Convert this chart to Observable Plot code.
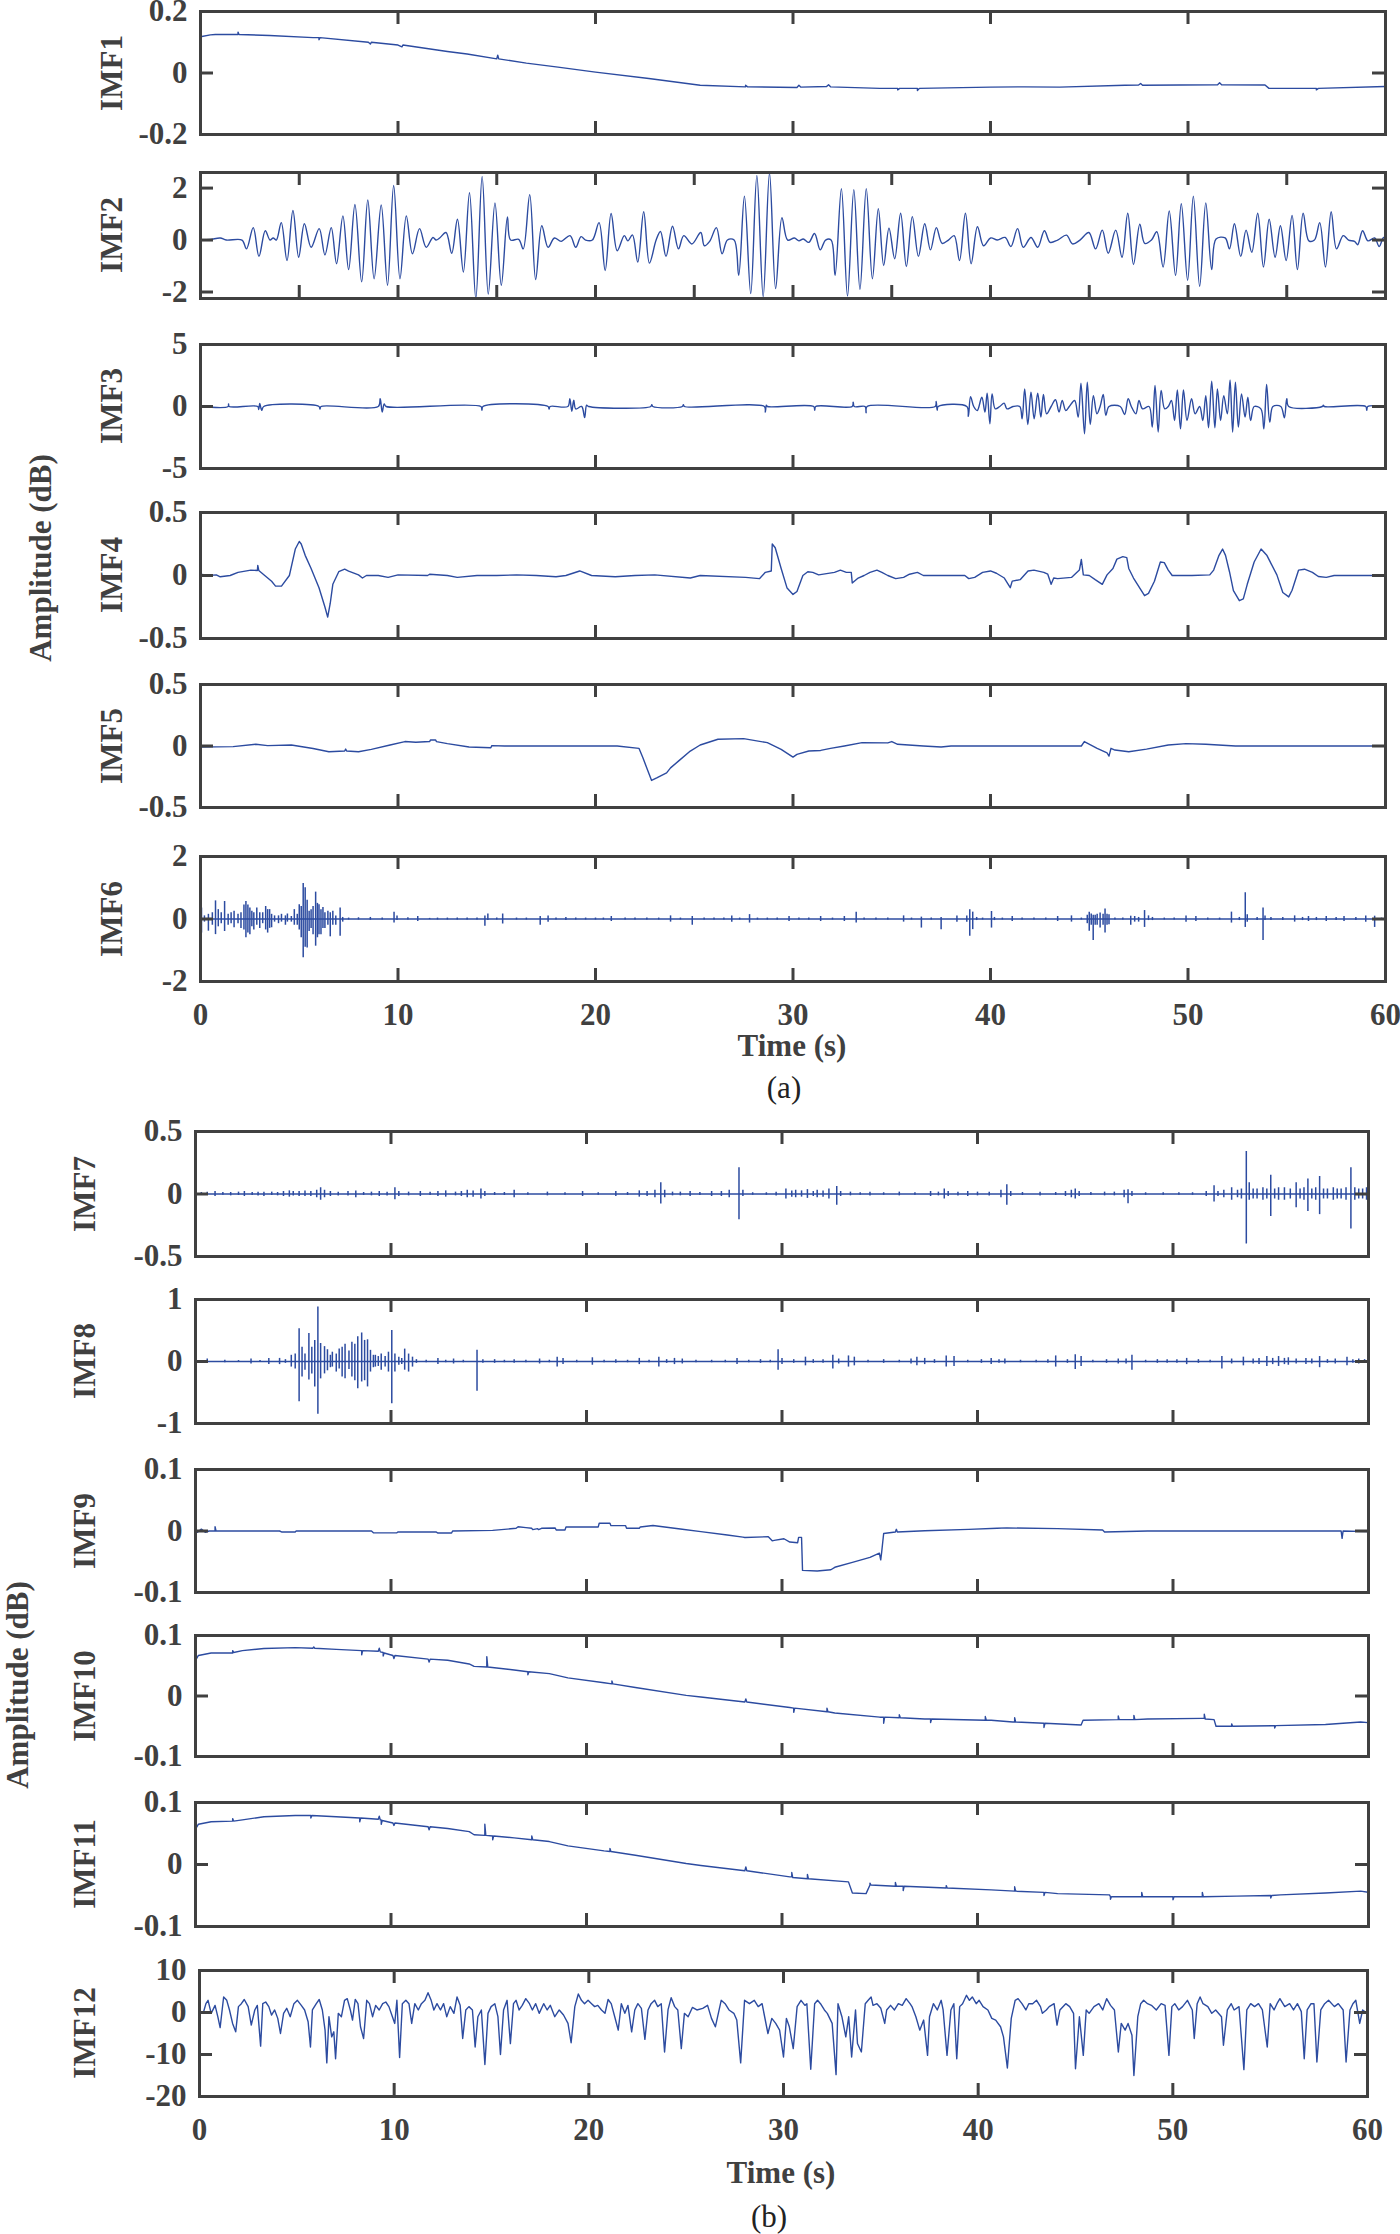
<!DOCTYPE html>
<html>
<head>
<meta charset="utf-8">
<script src="https://cdn.jsdelivr.net/npm/d3@7"></script>
<script src="https://cdn.jsdelivr.net/npm/@observablehq/plot@0.6"></script>
<style>
  body { margin: 0; background: #fff; }
  #fig { position: relative; width: 1400px; height: 2234px; overflow: hidden;
         font-family: "Liberation Serif", "Times New Roman", serif; color: #404040; }
  .lbl { position: absolute; font-weight: bold; font-size: 31px; white-space: nowrap;
         transform: translate(-50%, -50%); line-height: 1; }
  .rot { transform: translate(-50%, -50%) rotate(-90deg); }
  .cap { position: absolute; font-size: 31px; white-space: nowrap; color: #222;
         transform: translate(-50%, -50%); line-height: 1; }
  .panel { position: absolute; }
</style>
</head>
<body>
<div id="fig"></div>
<script>
// ---- Intrinsic mode functions as polylines, [time (s), amplitude] ----
const imf1 = [[0,0.118],[0.5,0.124],[0.75,0.125],[1.9,0.125],[1.9,0.133],[1.95,0.125],[3.5,0.122],[5.7,0.115],[6.0,0.115],[6.0,0.108],[6.05,0.115],[8.5,0.1],[8.6,0.094],[8.65,0.1],[10,0.091],[10.2,0.085],[10.25,0.091],[12.5,0.07],[13.5,0.062],[15,0.046],[15.05,0.058],[15.1,0.046],[16.5,0.032],[18.1,0.019],[20,0.003],[22.7,-0.018],[25.3,-0.04],[27.6,-0.045],[27.6,-0.04],[27.7,-0.045],[30.2,-0.047],[30.3,-0.04],[30.4,-0.046],[31.7,-0.044],[31.8,-0.038],[31.9,-0.045],[34.4,-0.05],[35.3,-0.05],[35.3,-0.055],[35.4,-0.05],[36.3,-0.05],[36.3,-0.057],[36.4,-0.05],[40,-0.046],[41.7,-0.045],[43.5,-0.046],[46.8,-0.04],[47.5,-0.039],[47.6,-0.034],[47.7,-0.04],[51.5,-0.038],[51.6,-0.032],[51.7,-0.038],[53.9,-0.039],[54.1,-0.05],[56.5,-0.05],[56.5,-0.055],[56.6,-0.05],[60,-0.044]];

const imf2 = [[0,0],[0.5,0.02],[1.0,0.08],[1.3,0],[2.1,0],[2.33,-0.34],[2.67,0.48],[2.96,-0.63],[3.28,0.36],[3.52,0],[3.68,0.08],[3.84,0],[4.09,0.67],[4.38,-0.79],[4.68,1.14],[4.97,-0.66],[5.26,0.63],[5.6,-0.28],[6.01,0.44],[6.3,-0.57],[6.62,0.48],[6.89,-0.91],[7.21,0.93],[7.5,-1.14],[7.82,1.37],[8.16,-1.61],[8.47,1.54],[8.79,-1.49],[9.15,1.35],[9.47,-1.74],[9.78,2.1],[10.1,-1.49],[10.42,0.93],[10.73,-0.53],[11.09,0.44],[11.43,-0.28],[11.77,0.1],[11.93,0],[12.11,0.08],[12.43,0.29],[12.72,-0.51],[13.01,0.8],[13.31,-1.23],[13.62,1.82],[13.94,-2.25],[14.26,2.45],[14.57,-2.08],[14.91,1.43],[15.23,-1.74],[15.54,0.89],[15.7,0],[16.11,0.03],[16.34,-0.34],[16.67,1.75],[16.97,-1.52],[17.28,0.55],[17.6,-0.28],[17.92,0.08],[18.26,-0.05],[18.71,0.17],[19.0,-0.28],[19.27,0.13],[19.5,0],[19.84,0],[20.18,0.67],[20.49,-1.17],[20.79,1.02],[21.1,-0.41],[21.46,0.17],[21.64,-0.03],[21.87,0.2],[22.14,-0.85],[22.44,1.09],[22.73,-0.89],[23.07,0],[23.29,0.33],[23.57,-0.63],[23.9,0.53],[24.2,-0.34],[24.47,0.17],[24.88,-0.15],[25.33,0.29],[25.51,-0.22],[25.78,-0.05],[26.12,0.48],[26.41,-0.53],[26.68,0],[27.02,0],[27.25,-1.36],[27.54,1.69],[27.86,-2.06],[28.17,2.49],[28.49,-2.18],[28.81,2.58],[29.12,-1.87],[29.44,0.86],[29.73,0],[30.07,0.08],[30.3,-0.03],[30.52,0.04],[30.8,-0.09],[31.09,0.25],[31.38,-0.38],[31.65,0],[31.93,0],[32.13,-1.36],[32.45,1.98],[32.76,-2.16],[33.08,1.94],[33.39,-1.9],[33.71,1.98],[34.02,-1.49],[34.32,1.21],[34.59,-0.98],[34.86,0.46],[35.15,-0.72],[35.45,1.03],[35.74,-1.02],[36.04,0.9],[36.35,-0.63],[36.67,0.63],[36.96,-0.38],[37.26,0.48],[37.55,-0.13],[37.87,0],[38.16,0.17],[38.43,-0.79],[38.73,1.03],[39.02,-0.91],[39.34,0.51],[39.65,-0.22],[40.01,0.08],[40.35,0],[40.74,0.1],[41.03,-0.25],[41.37,0.44],[41.66,-0.28],[42.05,0.1],[42.39,-0.28],[42.73,0.36],[43.02,-0.09],[43.4,0],[43.85,0.19],[44.15,-0.15],[44.53,0],[44.98,0.29],[45.32,-0.34],[45.66,0.38],[45.96,-0.51],[46.34,0.38],[46.66,-0.66],[46.95,1.03],[47.24,-0.94],[47.56,0.61],[47.81,-0.13],[48.15,0],[48.42,0.32],[48.74,-1.04],[49.05,1.12],[49.37,-1.36],[49.66,1.4],[49.98,-1.55],[50.27,1.69],[50.59,-1.78],[50.9,1.43],[51.2,-1.14],[51.42,0.04],[51.88,0.08],[52.1,-0.34],[52.35,0.63],[52.67,-0.63],[52.94,0.38],[53.23,-0.47],[53.53,1.03],[53.82,-1.04],[54.11,0.8],[54.41,-0.66],[54.68,0.55],[54.97,-0.79],[55.27,0.95],[55.54,-1.14],[55.83,1.03],[56.12,-0.03],[56.4,0],[56.67,0.67],[56.96,-1.04],[57.25,1.09],[57.52,-0.34],[57.86,0.17],[58.13,0],[58.43,-0.05],[58.59,-0.18],[58.84,0.36],[59.11,-0.03],[59.45,0.08],[59.68,-0.25],[59.9,0.1],[60,0.04]];

const imf3 = [[0,0],[1.4,0],[1.42,0.2],[1.45,0],[2.9,0],[2.95,-0.25],[3.0,0.25],[3.1,-0.3],[3.2,0],[6.0,0],[6.05,-0.2],[6.1,0],[9.0,0],[9.1,0.62],[9.2,-0.45],[9.3,0.2],[9.4,0],[14.2,0],[14.25,-0.3],[14.3,0],[17.6,0],[17.65,-0.2],[17.7,0],[18.6,0],[18.7,0.62],[18.8,-0.38],[18.9,0.5],[19.0,-0.2],[19.3,0],[19.45,-0.9],[19.55,0.1],[19.65,0],[22.8,0],[22.85,0.15],[22.9,0],[24.4,0],[24.45,0.15],[24.5,0],[28.55,0],[28.6,-0.45],[28.65,0.1],[28.7,0],[31.05,0],[31.1,-0.3],[31.15,0],[33.0,0],[33.05,0.35],[33.1,0],[33.65,0],[33.7,-0.5],[33.75,0],[37.2,0],[37.25,0.4],[37.3,-0.3],[37.35,0],[38.8,0],[38.88,-0.8],[38.99,0.8],[39.15,0],[39.33,-0.32],[39.56,0.75],[39.72,-0.45],[39.83,1.07],[39.97,-1.4],[40.08,1.02],[40.24,-0.19],[40.47,0],[40.69,0.27],[40.83,-0.19],[41.14,0],[41.48,0],[41.6,-1.0],[41.73,1.42],[41.89,-1.45],[42.05,1.15],[42.21,-0.99],[42.39,1.07],[42.55,-0.86],[42.68,0.97],[42.84,-0.59],[43.07,0],[43.29,0.54],[43.47,-0.45],[43.63,0.48],[43.81,-0.32],[43.99,0],[44.26,0.48],[44.44,-0.86],[44.58,1.88],[44.76,-2.2],[44.9,1.96],[45.05,-1.45],[45.21,0.88],[45.39,-0.59],[45.55,0],[45.71,0.97],[45.84,-0.72],[46.0,0],[46.57,0],[46.79,-0.64],[46.97,0.62],[47.13,0],[47.36,-0.59],[47.52,0.48],[47.7,-0.19],[48.03,0],[48.19,-1.66],[48.33,1.69],[48.49,-2.06],[48.64,1.29],[48.82,-0.19],[49.0,0],[49.16,0.48],[49.32,-1.13],[49.46,1.34],[49.62,-1.8],[49.77,1.34],[49.95,-1.13],[50.18,0.62],[50.36,-0.59],[50.59,0],[50.75,-1.13],[50.9,0.88],[51.04,-1.72],[51.2,2.04],[51.36,-1.72],[51.49,1.42],[51.65,-1.13],[51.81,0.88],[51.99,-0.59],[52.13,2.14],[52.26,-2.06],[52.4,1.96],[52.55,-1.66],[52.71,1.02],[52.89,-0.86],[53.03,0.75],[53.17,-1.13],[53.35,0],[53.69,-0.19],[53.84,-1.8],[53.98,1.77],[54.14,-1.26],[54.3,0],[54.7,0],[54.88,-0.91],[55.0,0.62],[55.1,0],[56.8,0],[56.85,0.1],[56.9,0],[59.0,0],[59.05,-0.3],[59.1,0],[60,0]];

const imf4 = [[0,0.01],[0.4,0],[0.8,0.005],[1.0,-0.01],[1.5,0],[1.9,0.025],[2.55,0.043],[2.88,0.04],[2.9,0.08],[2.95,0.04],[3.6,-0.046],[3.8,-0.084],[4.1,-0.084],[4.5,0],[4.8,0.21],[5.0,0.27],[5.1,0.25],[5.3,0.16],[5.6,0.056],[6.0,-0.097],[6.3,-0.25],[6.44,-0.33],[6.57,-0.22],[6.7,-0.07],[7.0,0.03],[7.3,0.05],[7.5,0.035],[8.0,0.005],[8.2,-0.02],[8.4,0],[9.0,0],[9.5,-0.015],[10.0,0.005],[11.5,0],[11.6,0.01],[12.5,0],[13.0,-0.015],[14.0,0],[15.0,0],[16.0,0.005],[17.0,0],[18.0,-0.01],[18.5,0],[19.2,0.036],[19.8,0],[21.0,-0.01],[22.0,0],[23.0,0.005],[24.8,-0.02],[25.3,0],[27.6,-0.015],[28.3,-0.025],[28.6,0.025],[28.9,0.036],[28.95,0.25],[29.1,0.22],[29.4,0.056],[29.7,-0.1],[30.0,-0.15],[30.2,-0.127],[30.5,0],[30.75,0.03],[31.0,0.025],[31.3,0.005],[32.1,0.025],[32.4,0.043],[32.7,0.025],[32.95,0.025],[33.0,-0.06],[33.3,-0.02],[33.6,0],[33.9,0.025],[34.25,0.043],[34.5,0.025],[34.8,0],[35.2,-0.025],[35.6,-0.015],[35.9,0.01],[36.3,0.025],[36.6,0],[38.7,0],[38.9,-0.025],[39.2,-0.015],[39.6,0.025],[40.0,0.036],[40.3,0.018],[40.7,-0.02],[41.0,-0.097],[41.1,-0.045],[41.5,-0.033],[41.9,0.036],[42.2,0.043],[42.7,0.025],[42.9,0.01],[43.07,-0.07],[43.2,-0.02],[43.4,-0.025],[44.1,-0.015],[44.5,0.043],[44.6,0.127],[44.7,0.005],[45.0,0],[45.3,-0.033],[45.66,-0.07],[45.9,0.005],[46.2,0.056],[46.4,0.13],[46.7,0.15],[46.9,0.142],[47.0,0.056],[47.24,-0.02],[47.6,-0.11],[47.8,-0.16],[48.0,-0.142],[48.3,-0.046],[48.6,0.107],[48.8,0.102],[49.0,0.043],[49.2,0],[50.2,0],[51.1,0.005],[51.3,0.043],[51.57,0.16],[51.75,0.21],[51.9,0.16],[52.1,0.03],[52.3,-0.12],[52.6,-0.2],[52.8,-0.186],[53.0,-0.07],[53.35,0.107],[53.7,0.21],[54.0,0.158],[54.5,0.005],[54.8,-0.135],[55.1,-0.17],[55.27,-0.117],[55.6,0.043],[55.9,0.05],[56.3,0.025],[56.6,-0.008],[57.0,-0.015],[57.4,0],[60,0]];

const imf5 = [[0,-0.008],[1.65,-0.005],[2.8,0.014],[3.4,0.003],[4.6,0.008],[5.7,-0.02],[6.5,-0.047],[7.3,-0.041],[7.35,-0.025],[7.4,-0.041],[8.0,-0.047],[8.65,-0.027],[9.6,0.008],[10.35,0.036],[10.9,0.03],[11.6,0.036],[11.65,0.049],[11.9,0.049],[11.95,0.036],[12.5,0.019],[13.6,-0.008],[14.7,-0.014],[14.75,0.003],[15.4,0],[21.1,0],[22.2,-0.019],[22.4,-0.096],[22.66,-0.205],[22.84,-0.28],[23.1,-0.26],[23.6,-0.219],[23.8,-0.178],[24.2,-0.123],[24.8,-0.041],[25.3,0.008],[26.2,0.055],[27.5,0.06],[28.7,0.027],[29.4,-0.027],[30.0,-0.09],[30.2,-0.068],[30.8,-0.041],[31.4,-0.036],[31.9,-0.019],[32.6,0],[33.5,0.027],[34.8,0.025],[35.0,0.036],[35.3,0.014],[36.6,0],[37.5,-0.008],[38.0,0],[43.4,0],[44.6,0],[44.75,0.036],[45.4,-0.019],[45.9,-0.055],[46.0,-0.082],[46.1,-0.019],[46.3,-0.033],[47.0,-0.047],[47.9,-0.025],[49.0,0.008],[49.9,0.019],[50.9,0.014],[52.4,0],[60,0]];

// ---- Bursty modes as oscillation extents about a zero baseline, [time (s), min, max] ----
const imf6 = [[0.05,-0.45,0.35],[0.2,-0.1,0.1],[0.4,-0.39,0.15],[0.6,-0.2,0.2],[0.76,-0.5,0.58],[0.9,-0.25,0.3],[1.05,-0.15,0.2],[1.22,-0.4,0.56],[1.4,-0.2,0.15],[1.55,-0.15,0.2],[1.7,-0.28,0.25],[1.9,-0.15,0.15],[2.05,-0.3,0.2],[2.2,-0.35,0.45],[2.3,-0.6,0.56],[2.4,-0.45,0.45],[2.5,-0.5,0.35],[2.6,-0.25,0.25],[2.7,-0.35,0.2],[2.85,-0.2,0.35],[3.0,-0.3,0.2],[3.15,-0.15,0.2],[3.3,-0.35,0.4],[3.4,-0.45,0.3],[3.5,-0.3,0.3],[3.6,-0.28,0.15],[3.75,-0.1,0.1],[3.95,-0.15,0.1],[4.1,-0.1,0.15],[4.3,-0.2,0.1],[4.4,-0.1,0.16],[4.6,-0.1,0.08],[4.75,-0.2,0.3],[4.9,-0.2,0.15],[5.0,-0.35,0.46],[5.1,-0.6,0.4],[5.2,-1.24,1.14],[5.3,-0.9,1.0],[5.4,-0.93,0.6],[5.5,-0.4,0.25],[5.6,-0.3,0.3],[5.7,-0.5,0.4],[5.83,-0.87,0.86],[5.92,-0.6,0.5],[6.0,-0.5,0.46],[6.1,-0.5,0.3],[6.2,-0.3,0.37],[6.3,-0.3,0.2],[6.45,-0.2,0.25],[6.57,-0.57,0.2],[6.7,-0.2,0.25],[6.85,-0.2,0.1],[7.07,-0.55,0.35],[7.2,-0.1,0.05],[7.5,-0.03,0.03],[8.0,-0.03,0.04],[8.6,-0.04,0.05],[9.2,-0.03,0.03],[9.8,-0.13,0.22],[9.95,-0.05,0.1],[10.5,-0.03,0.04],[11.0,-0.08,0.08],[11.6,-0.02,0.02],[12.0,-0.03,0.03],[12.5,-0.03,0.03],[13.0,-0.03,0.03],[13.5,-0.03,0.03],[14.0,-0.03,0.03],[14.4,-0.23,0.1],[14.55,-0.05,0.16],[15.0,-0.03,0.03],[15.3,-0.16,0.16],[16.0,-0.03,0.03],[16.5,-0.03,0.03],[17.2,-0.2,0.08],[17.6,-0.1,0.1],[18.0,-0.03,0.03],[18.5,-0.05,0.05],[19.0,-0.03,0.03],[19.5,-0.03,0.03],[20.0,-0.03,0.03],[20.4,-0.03,0.03],[20.8,-0.08,0.08],[21.5,-0.03,0.03],[22.0,-0.03,0.03],[22.6,-0.03,0.03],[23.2,-0.03,0.03],[23.8,-0.1,0.1],[24.3,-0.03,0.03],[24.9,-0.2,0.08],[25.5,-0.03,0.03],[26.0,-0.03,0.03],[26.5,-0.03,0.03],[26.9,-0.1,0.1],[27.3,-0.03,0.03],[27.8,-0.13,0.14],[28.2,-0.03,0.03],[28.7,-0.03,0.03],[29.2,-0.03,0.03],[29.8,-0.08,0.08],[30.3,-0.03,0.03],[30.8,-0.03,0.03],[31.4,-0.08,0.08],[32.0,-0.03,0.03],[32.6,-0.08,0.08],[33.2,-0.13,0.22],[33.6,-0.03,0.03],[34.2,-0.03,0.03],[34.8,-0.03,0.03],[35.6,-0.1,0.1],[36.0,-0.03,0.03],[36.5,-0.29,0.06],[37.0,-0.03,0.03],[37.5,-0.34,0.05],[38.3,-0.1,0.1],[38.8,-0.1,0.1],[38.95,-0.55,0.3],[39.1,-0.34,0.22],[39.3,-0.05,0.05],[39.6,-0.03,0.03],[40.05,-0.29,0.24],[40.2,-0.05,0.05],[40.6,-0.03,0.03],[41.1,-0.08,0.08],[41.6,-0.03,0.03],[42.2,-0.03,0.03],[42.8,-0.03,0.03],[43.4,-0.08,0.08],[44.1,-0.1,0.1],[44.6,-0.03,0.03],[44.9,-0.15,0.12],[45.0,-0.39,0.22],[45.1,-0.2,0.16],[45.2,-0.69,0.12],[45.3,-0.2,0.12],[45.4,-0.2,0.15],[45.55,-0.29,0.19],[45.7,-0.2,0.15],[45.8,-0.45,0.32],[45.9,-0.2,0.15],[46.0,-0.18,0.14],[46.3,-0.03,0.03],[46.7,-0.03,0.03],[47.1,-0.2,0.09],[47.3,-0.1,0.08],[47.5,-0.1,0.05],[47.8,-0.27,0.27],[48.0,-0.05,0.1],[48.2,-0.05,0.05],[48.8,-0.03,0.03],[49.3,-0.03,0.03],[49.9,-0.1,0.1],[50.4,-0.08,0.08],[51.0,-0.03,0.03],[51.6,-0.03,0.03],[52.2,-0.13,0.22],[52.6,-0.05,0.05],[52.9,-0.27,0.84],[53.0,-0.1,0.14],[53.5,-0.05,0.05],[53.8,-0.69,0.35],[53.9,-0.05,0.1],[54.2,-0.05,0.05],[54.8,-0.05,0.05],[55.4,-0.1,0.1],[55.8,-0.05,0.05],[56.1,-0.08,0.08],[56.5,-0.05,0.05],[57.0,-0.08,0.08],[57.5,-0.05,0.05],[57.9,-0.08,0.08],[58.5,-0.05,0.05],[59.0,-0.1,0.1],[59.45,-0.27,0.09],[59.8,-0.03,0.03]];

const imf7 = [[0.3,-0.012,0.012],[0.6,-0.01,0.015],[1,-0.02,0.02],[1.4,-0.01,0.012],[1.8,-0.015,0.012],[2.2,-0.012,0.015],[2.5,-0.02,0.02],[2.9,-0.012,0.012],[3.2,-0.015,0.015],[3.5,-0.02,0.015],[3.9,-0.012,0.015],[4.2,-0.015,0.012],[4.5,-0.02,0.02],[4.8,-0.025,0.025],[5.0,-0.015,0.02],[5.3,-0.02,0.02],[5.6,-0.02,0.025],[5.9,-0.02,0.02],[6.2,-0.03,0.03],[6.4,-0.05,0.05],[6.6,-0.03,0.03],[6.9,-0.02,0.02],[7.3,-0.015,0.015],[7.8,-0.015,0.02],[8.2,-0.03,0.025],[8.6,-0.012,0.012],[9.0,-0.015,0.015],[9.4,-0.02,0.02],[9.8,-0.015,0.015],[10.2,-0.045,0.05],[10.4,-0.02,0.02],[10.9,-0.015,0.015],[11.5,-0.02,0.02],[12.0,-0.012,0.015],[12.4,-0.02,0.02],[12.8,-0.025,0.025],[13.3,-0.015,0.015],[13.6,-0.02,0.02],[13.9,-0.03,0.03],[14.2,-0.025,0.025],[14.6,-0.04,0.04],[14.8,-0.02,0.02],[15.3,-0.012,0.012],[15.8,-0.012,0.012],[16.3,-0.03,0.03],[17.0,-0.01,0.01],[18,-0.015,0.015],[18.9,-0.01,0.01],[19.8,-0.02,0.02],[20.6,-0.01,0.01],[21.5,-0.02,0.02],[22.1,-0.012,0.012],[22.7,-0.025,0.025],[23.1,-0.02,0.02],[23.5,-0.03,0.03],[23.8,-0.08,0.09],[24.0,-0.03,0.03],[24.4,-0.015,0.015],[24.8,-0.015,0.015],[25.3,-0.02,0.02],[25.8,-0.012,0.012],[26.4,-0.02,0.02],[26.9,-0.02,0.02],[27.3,-0.03,0.03],[27.8,-0.205,0.21],[28.0,-0.02,0.03],[28.5,-0.01,0.01],[29.2,-0.01,0.01],[29.7,-0.015,0.015],[30.2,-0.04,0.04],[30.5,-0.025,0.025],[30.7,-0.03,0.03],[31.0,-0.025,0.025],[31.3,-0.035,0.035],[31.6,-0.02,0.02],[31.8,-0.03,0.03],[32.1,-0.025,0.025],[32.4,-0.04,0.04],[32.8,-0.09,0.06],[33.0,-0.02,0.02],[33.5,-0.015,0.015],[34.0,-0.01,0.01],[34.5,-0.015,0.015],[35.2,-0.01,0.01],[36.0,-0.015,0.015],[36.8,-0.01,0.01],[37.6,-0.02,0.02],[38.0,-0.015,0.015],[38.3,-0.04,0.04],[38.5,-0.02,0.02],[39.0,-0.015,0.015],[39.5,-0.02,0.02],[40.0,-0.015,0.015],[40.6,-0.015,0.015],[41.2,-0.03,0.03],[41.5,-0.09,0.075],[41.7,-0.02,0.02],[42.3,-0.012,0.012],[43.2,-0.015,0.015],[44.0,-0.012,0.012],[44.5,-0.02,0.02],[44.8,-0.03,0.03],[45.0,-0.04,0.04],[45.2,-0.02,0.02],[45.8,-0.012,0.012],[46.5,-0.015,0.015],[47.0,-0.015,0.015],[47.5,-0.03,0.03],[47.7,-0.077,0.035],[47.9,-0.02,0.02],[48.6,-0.01,0.01],[49.5,-0.01,0.01],[50.3,-0.01,0.01],[51.0,-0.01,0.01],[51.7,-0.02,0.02],[52.1,-0.064,0.067],[52.3,-0.02,0.02],[52.6,-0.03,0.03],[53.0,-0.05,0.05],[53.3,-0.03,0.03],[53.5,-0.04,0.04],[53.75,-0.4,0.34],[53.9,-0.05,0.09],[54.1,-0.04,0.04],[54.3,-0.04,0.04],[54.6,-0.05,0.05],[54.8,-0.04,0.04],[55.0,-0.18,0.15],[55.2,-0.04,0.04],[55.4,-0.05,0.05],[55.7,-0.05,0.05],[56.0,-0.04,0.04],[56.3,-0.11,0.09],[56.5,-0.04,0.04],[56.7,-0.05,0.05],[56.9,-0.14,0.12],[57.1,-0.04,0.04],[57.3,-0.05,0.05],[57.5,-0.165,0.14],[57.7,-0.04,0.04],[57.9,-0.04,0.04],[58.2,-0.05,0.05],[58.4,-0.04,0.04],[58.6,-0.04,0.04],[58.85,-0.05,0.05],[59.1,-0.28,0.21],[59.3,-0.05,0.05],[59.5,-0.04,0.04],[59.7,-0.04,0.04],[59.9,-0.05,0.05]];

const imf8 = [[0.6,-0.02,0.04],[1.5,-0.02,0.02],[2.2,-0.015,0.015],[2.84,-0.04,0.04],[3.3,-0.015,0.015],[3.75,-0.05,0.05],[4.3,-0.05,0.05],[4.6,-0.03,0.03],[4.9,-0.09,0.1],[5.1,-0.12,0.12],[5.3,-0.65,0.53],[5.45,-0.25,0.23],[5.6,-0.14,0.12],[5.8,-0.3,0.45],[5.95,-0.2,0.23],[6.1,-0.41,0.34],[6.26,-0.85,0.88],[6.4,-0.28,0.29],[6.6,-0.2,0.24],[6.75,-0.15,0.19],[6.9,-0.1,0.1],[7.0,-0.09,0.15],[7.2,-0.17,0.12],[7.35,-0.12,0.2],[7.5,-0.25,0.23],[7.65,-0.28,0.28],[7.85,-0.13,0.17],[8.0,-0.25,0.31],[8.15,-0.31,0.28],[8.3,-0.44,0.4],[8.5,-0.33,0.46],[8.65,-0.31,0.34],[8.8,-0.41,0.35],[8.95,-0.17,0.18],[9.1,-0.1,0.1],[9.2,-0.09,0.1],[9.35,-0.08,0.08],[9.5,-0.14,0.12],[9.7,-0.09,0.08],[9.87,-0.17,0.15],[10.04,-0.68,0.5],[10.2,-0.17,0.12],[10.4,-0.06,0.07],[10.55,-0.05,0.05],[10.7,-0.14,0.2],[10.9,-0.17,0.12],[11.1,-0.09,0.07],[11.3,-0.03,0.03],[11.8,-0.02,0.02],[12.4,-0.05,0.05],[12.8,-0.02,0.02],[13.2,-0.04,0.04],[13.7,-0.02,0.02],[14.4,-0.48,0.18],[14.7,-0.03,0.03],[15.3,-0.03,0.03],[15.8,-0.02,0.02],[16.3,-0.03,0.03],[16.9,-0.02,0.02],[17.6,-0.04,0.04],[18.1,-0.02,0.02],[18.5,-0.09,0.07],[18.8,-0.05,0.05],[19.5,-0.02,0.02],[20.3,-0.06,0.06],[20.9,-0.02,0.02],[21.5,-0.03,0.03],[22.1,-0.02,0.02],[22.7,-0.05,0.05],[23.2,-0.02,0.02],[23.7,-0.09,0.07],[24.1,-0.03,0.03],[24.5,-0.05,0.05],[24.9,-0.04,0.04],[25.6,-0.02,0.02],[26.4,-0.02,0.02],[27.1,-0.02,0.02],[27.7,-0.05,0.05],[28.3,-0.02,0.02],[28.9,-0.03,0.03],[29.4,-0.02,0.02],[29.8,-0.14,0.19],[30.0,-0.05,0.05],[30.6,-0.03,0.03],[31.2,-0.07,0.07],[31.6,-0.03,0.03],[32.1,-0.03,0.03],[32.6,-0.12,0.1],[32.9,-0.04,0.04],[33.4,-0.09,0.09],[33.7,-0.07,0.07],[34.4,-0.02,0.02],[35.2,-0.03,0.03],[36.0,-0.02,0.02],[36.6,-0.04,0.04],[36.9,-0.07,0.07],[37.3,-0.05,0.05],[37.8,-0.03,0.03],[38.4,-0.09,0.09],[38.8,-0.08,0.08],[39.5,-0.02,0.02],[40.2,-0.03,0.03],[40.7,-0.05,0.05],[41.1,-0.03,0.03],[41.4,-0.04,0.04],[42.2,-0.02,0.02],[43.0,-0.02,0.02],[43.6,-0.03,0.03],[44.0,-0.09,0.09],[44.6,-0.03,0.03],[45.0,-0.13,0.11],[45.3,-0.08,0.08],[45.9,-0.02,0.02],[46.6,-0.03,0.03],[47.2,-0.04,0.04],[47.6,-0.04,0.04],[47.9,-0.14,0.1],[48.6,-0.02,0.02],[49.2,-0.03,0.03],[49.7,-0.03,0.03],[50.2,-0.03,0.03],[50.7,-0.05,0.05],[51.3,-0.03,0.03],[51.9,-0.02,0.02],[52.5,-0.12,0.08],[53.0,-0.04,0.04],[53.6,-0.07,0.07],[54.1,-0.04,0.04],[54.4,-0.05,0.05],[54.8,-0.08,0.08],[55.1,-0.05,0.05],[55.4,-0.08,0.08],[55.7,-0.05,0.05],[55.9,-0.06,0.06],[56.3,-0.04,0.04],[56.8,-0.05,0.05],[57.1,-0.04,0.04],[57.5,-0.1,0.08],[57.9,-0.03,0.03],[58.3,-0.04,0.04],[58.9,-0.07,0.07],[59.2,-0.03,0.03],[59.5,-0.04,0.04],[59.8,-0.03,0.03]];

const imf9 = [[0,0.002],[0.1,-0.002],[0.3,0.003],[0.5,-0.002],[0.7,0],[1.0,0],[1.0,0.007],[1.05,0],[4.3,0],[4.4,-0.0016],[5.1,-0.0016],[5.15,0],[9.0,0],[9.1,-0.003],[10.3,-0.003],[10.35,-0.0016],[12.3,-0.0016],[12.4,-0.0033],[13.1,-0.0033],[13.15,0],[15.2,0.001],[16.4,0.0044],[16.5,0.007],[16.9,0.0055],[17.2,0.0044],[17.25,0.0022],[17.5,0.0038],[17.55,0.0022],[17.7,0.0044],[18.4,0.0049],[18.45,0.0016],[18.9,0.0016],[18.95,0.0066],[20.6,0.0066],[20.65,0.0126],[21.2,0.0126],[21.25,0.0087],[22.0,0.0087],[22.05,0.0044],[22.7,0.0044],[22.75,0.0066],[23.4,0.009],[24.8,0.0033],[25.85,-0.001],[27.2,-0.0066],[28.0,-0.01],[28.1,-0.0105],[29.3,-0.0093],[29.5,-0.016],[29.6,-0.0153],[30.1,-0.0126],[30.4,-0.018],[30.8,-0.019],[30.85,-0.0104],[31.0,-0.0104],[31.05,-0.064],[31.8,-0.065],[32.5,-0.063],[32.7,-0.059],[33.6,-0.051],[34.5,-0.043],[34.98,-0.036],[35.05,-0.047],[35.1,-0.034],[35.2,-0.004],[35.8,-0.0016],[35.85,0.0027],[35.9,-0.0016],[37.3,0.0005],[39.55,0.0027],[41.0,0.0044],[41.5,0.005],[44.1,0.0038],[46.4,0.0016],[46.5,-0.0016],[48.7,0],[54.4,0],[58.6,0],[58.65,-0.012],[58.7,0],[60,-0.001]];

const imf10 = [[0,0.059],[0.15,0.067],[0.8,0.071],[1.9,0.071],[1.9,0.075],[1.95,0.072],[2.4,0.075],[3.5,0.0786],[5.1,0.08],[6.0,0.079],[6.05,0.081],[6.1,0.079],[7.2,0.077],[8.5,0.075],[8.5,0.068],[8.55,0.075],[9.35,0.074],[9.4,0.079],[9.45,0.073],[9.6,0.072],[9.6,0.066],[9.65,0.071],[10.1,0.067],[10.15,0.062],[10.2,0.067],[11.9,0.061],[11.95,0.056],[12.0,0.061],[12.9,0.059],[14.0,0.053],[14.25,0.049],[14.9,0.048],[14.9,0.065],[14.95,0.048],[16.3,0.043],[17.0,0.04],[17.0,0.035],[17.05,0.04],[18.1,0.037],[19.05,0.03],[20.9,0.022],[21.3,0.02],[21.3,0.025],[21.35,0.02],[22.5,0.014],[25.1,0.001],[25.85,-0.0016],[28.1,-0.01],[28.15,-0.005],[28.2,-0.01],[30.4,-0.019],[30.6,-0.02],[30.6,-0.027],[30.65,-0.02],[32.3,-0.026],[32.3,-0.02],[32.35,-0.026],[32.7,-0.028],[35.0,-0.035],[35.2,-0.035],[35.2,-0.045],[35.25,-0.035],[36.0,-0.036],[36.0,-0.031],[36.05,-0.036],[37.3,-0.038],[37.6,-0.038],[37.6,-0.044],[37.65,-0.038],[40.4,-0.04],[40.4,-0.034],[40.45,-0.04],[40.7,-0.04],[41.8,-0.043],[41.9,-0.043],[41.9,-0.036],[41.95,-0.043],[43.4,-0.045],[43.4,-0.052],[43.45,-0.045],[45.3,-0.048],[45.4,-0.04],[47.2,-0.039],[47.2,-0.033],[47.25,-0.039],[48.0,-0.039],[48.0,-0.032],[48.05,-0.039],[48.7,-0.038],[51.5,-0.037],[51.6,-0.037],[51.6,-0.03],[51.65,-0.038],[52.1,-0.039],[52.2,-0.05],[53.0,-0.05],[53.0,-0.046],[53.05,-0.05],[55.2,-0.049],[55.2,-0.053],[55.25,-0.049],[57.8,-0.047],[59.6,-0.043],[60,-0.044]];

const imf11 = [[0,0.057],[0.15,0.065],[0.8,0.069],[1.9,0.07],[1.9,0.074],[1.95,0.07],[2.4,0.072],[3.5,0.077],[5.1,0.079],[5.9,0.079],[5.9,0.075],[5.95,0.079],[7.2,0.077],[8.4,0.075],[8.4,0.069],[8.45,0.075],[9.35,0.073],[9.4,0.078],[9.45,0.072],[9.5,0.072],[9.5,0.065],[9.55,0.071],[10.1,0.067],[10.15,0.063],[10.2,0.067],[11.9,0.061],[11.95,0.056],[12.0,0.061],[12.9,0.058],[14.0,0.053],[14.25,0.048],[14.8,0.047],[14.8,0.065],[14.85,0.047],[15.2,0.046],[15.2,0.04],[15.25,0.046],[16.3,0.043],[17.2,0.04],[17.2,0.046],[17.25,0.04],[18.1,0.037],[19.05,0.03],[20.9,0.022],[21.2,0.021],[21.2,0.026],[21.25,0.021],[22.5,0.015],[25.1,0.0016],[25.85,-0.0016],[28.1,-0.01],[28.15,-0.004],[28.2,-0.01],[30.4,-0.02],[30.5,-0.02],[30.5,-0.013],[30.55,-0.021],[31.3,-0.023],[31.3,-0.016],[31.35,-0.023],[33.4,-0.028],[33.6,-0.046],[34.3,-0.047],[34.5,-0.033],[34.5,-0.03],[34.55,-0.033],[35.8,-0.035],[35.8,-0.029],[35.85,-0.035],[36.1,-0.035],[36.2,-0.035],[36.2,-0.042],[36.25,-0.035],[38.4,-0.038],[38.4,-0.034],[38.45,-0.038],[40.7,-0.041],[41.9,-0.043],[41.9,-0.036],[41.95,-0.043],[43.4,-0.045],[43.4,-0.05],[43.45,-0.045],[44.1,-0.047],[46.75,-0.049],[46.8,-0.052],[46.8,-0.056],[46.85,-0.052],[47.1,-0.052],[48.4,-0.052],[48.4,-0.045],[48.45,-0.052],[49.8,-0.052],[50.0,-0.052],[50.0,-0.057],[50.05,-0.052],[51.5,-0.052],[51.5,-0.045],[51.55,-0.052],[53.25,-0.051],[55.0,-0.05],[55.0,-0.054],[55.05,-0.05],[55.5,-0.049],[57.8,-0.046],[59.6,-0.043],[60,-0.045]];

const imf12 = [[0,0],[0.2,0],[0.33,2.1],[0.44,2.9],[0.6,-0.2],[0.8,1.7],[0.94,-1.0],[1.06,-3.6],[1.24,3.7],[1.4,2.9],[1.54,0.6],[1.7,-2.6],[1.86,-4.6],[2.0,1.4],[2.15,2.1],[2.3,3.1],[2.5,1.4],[2.66,-3.0],[2.84,0.6],[2.97,1.7],[3.14,-8.0],[3.25,2.1],[3.4,2.5],[3.56,1.4],[3.7,-0.6],[3.86,0.6],[4.02,-1.4],[4.16,-5.0],[4.32,-0.2],[4.48,1.0],[4.66,-1.0],[4.85,2.1],[5.03,2.9],[5.23,1.7],[5.4,0.6],[5.58,-2.2],[5.7,-8.2],[5.8,0.6],[6.0,2.1],[6.15,3.1],[6.31,0.6],[6.45,-4.2],[6.54,-12.0],[6.65,-1.0],[6.79,-5.8],[6.9,-4.6],[6.99,-11.0],[7.13,-0.2],[7.29,-1.0],[7.45,2.9],[7.59,3.3],[7.75,0.6],[7.86,-1.8],[8.0,3.1],[8.14,2.1],[8.27,-3.4],[8.43,-6.2],[8.59,2.9],[8.73,2.1],[8.89,-1.0],[9.05,1.7],[9.23,0.6],[9.41,2.1],[9.57,2.5],[9.73,1.4],[9.91,-1.0],[10.03,-2.6],[10.14,2.9],[10.28,-10.7],[10.42,2.1],[10.6,2.9],[10.76,2.1],[10.9,-2.6],[11.06,2.1],[11.24,0.6],[11.4,2.1],[11.58,2.9],[11.74,4.7],[11.9,2.9],[12.04,0.6],[12.2,2.1],[12.38,0.6],[12.54,2.1],[12.7,-1.0],[12.88,1.4],[13.07,-0.2],[13.23,3.7],[13.39,1.7],[13.52,-6.2],[13.68,0.6],[13.84,1.4],[14.02,0.6],[14.16,-8.2],[14.3,-1.0],[14.48,0.6],[14.66,-12.4],[14.82,-0.2],[14.98,1.4],[15.17,2.1],[15.33,-1.0],[15.46,-10.0],[15.62,0.6],[15.8,2.9],[15.97,-7.4],[16.13,2.1],[16.26,2.9],[16.42,0.6],[16.58,1.7],[16.76,3.3],[16.95,2.1],[17.1,0.6],[17.27,2.1],[17.45,-0.2],[17.68,2.1],[17.86,0.6],[18.02,1.7],[18.25,-1.0],[18.48,0.6],[18.7,-0.6],[18.93,-2.6],[19.09,-7.2],[19.28,1.4],[19.46,4.4],[19.62,2.9],[19.78,2.1],[19.96,2.9],[20.14,2.1],[20.3,1.4],[20.46,1.7],[20.65,0.6],[20.83,-0.2],[20.99,3.1],[21.15,2.1],[21.33,-1.0],[21.51,-4.2],[21.67,2.1],[21.85,-0.2],[22.01,1.7],[22.2,-4.6],[22.36,0.6],[22.52,2.1],[22.7,1.0],[22.88,-6.4],[23.04,0.6],[23.2,2.1],[23.38,2.9],[23.54,1.4],[23.72,2.1],[23.89,-9.4],[24.07,0.7],[24.23,3.5],[24.41,1.4],[24.57,0.6],[24.75,-8.6],[24.91,-0.2],[25.1,-1.0],[25.32,1.2],[25.55,0.6],[25.85,1.0],[26.1,1.7],[26.3,-1.4],[26.5,-3.4],[26.8,2.9],[27.0,2.1],[27.2,0.6],[27.45,-0.2],[27.6,-1.8],[27.8,-12.0],[28.0,2.9],[28.25,2.1],[28.5,2.9],[28.7,1.4],[28.9,2.1],[29.2,-5.0],[29.4,-1.4],[29.6,-2.6],[29.8,-4.2],[30.0,-10.6],[30.15,-1.4],[30.3,-3.4],[30.5,-8.6],[30.7,1.4],[30.9,2.9],[31.1,1.7],[31.2,2.1],[31.4,-13.5],[31.6,2.1],[31.75,2.9],[31.9,2.1],[32.1,0.6],[32.25,-0.2],[32.5,-2.6],[32.7,-14.8],[32.8,2.1],[33.0,-1.0],[33.2,-5.8],[33.35,-1.0],[33.5,-10.6],[33.7,0.6],[33.8,-7.4],[34.0,-9.4],[34.2,2.1],[34.35,2.9],[34.5,3.7],[34.6,1.7],[34.8,2.1],[35.0,1.0],[35.2,-2.6],[35.3,0.6],[35.5,1.7],[35.7,0.6],[35.9,2.1],[36.1,1.7],[36.3,3.3],[36.5,2.1],[36.6,1.4],[36.8,-1.0],[37.0,-4.2],[37.2,-1.8],[37.4,-10.2],[37.5,-1.0],[37.7,2.1],[37.9,0.6],[38.1,2.9],[38.2,0.6],[38.4,-10.2],[38.6,0.6],[38.75,2.1],[38.9,-11.0],[39.05,1.4],[39.2,2.1],[39.4,4.1],[39.55,2.9],[39.7,3.7],[39.9,2.1],[40.05,2.9],[40.25,1.4],[40.5,0.6],[40.7,-1.4],[40.9,-1.8],[41.15,-3.4],[41.3,-5.8],[41.5,-13.2],[41.7,-1.4],[41.9,2.9],[42.05,3.3],[42.25,2.1],[42.45,0.6],[42.6,2.1],[42.8,2.1],[43.0,2.9],[43.2,1.4],[43.3,-0.2],[43.5,0.6],[43.65,1.4],[43.9,2.1],[44.05,-3.0],[44.2,0.6],[44.5,2.1],[44.7,1.4],[44.9,-0.2],[45.0,-13.4],[45.2,-1.0],[45.4,-10.2],[45.55,0.6],[45.7,-0.2],[45.95,1.4],[46.2,2.1],[46.4,0.6],[46.6,3.3],[46.8,1.7],[47.0,0.6],[47.2,-9.4],[47.35,-2.6],[47.55,-4.2],[47.7,-2.6],[47.9,-5.4],[48.0,-15.0],[48.2,-1.0],[48.35,2.1],[48.5,2.9],[48.7,2.1],[48.9,1.7],[49.15,0.6],[49.4,2.1],[49.6,1.7],[49.8,-10.2],[49.95,1.4],[50.1,2.1],[50.3,0.6],[50.5,1.4],[50.75,2.9],[51.0,0.6],[51.1,-6.2],[51.25,2.1],[51.4,3.7],[51.55,2.1],[51.8,1.4],[52.0,-0.2],[52.2,0.6],[52.5,-1.0],[52.6,-7.8],[52.8,0.6],[53.0,2.1],[53.15,0.6],[53.4,1.4],[53.65,-13.6],[53.8,0.6],[54.0,2.1],[54.2,1.4],[54.4,2.1],[54.6,0.6],[54.85,-8.2],[55.0,2.1],[55.2,0.6],[55.35,2.1],[55.5,3.3],[55.75,1.4],[56.0,2.1],[56.2,0.6],[56.4,2.1],[56.6,0.2],[56.75,-11.0],[56.9,0.6],[57.1,2.1],[57.25,2.1],[57.4,-11.8],[57.6,0.6],[57.8,2.1],[58.0,2.9],[58.3,1.4],[58.5,2.1],[58.75,0.6],[58.9,-11.8],[59.1,0.6],[59.25,2.1],[59.4,2.9],[59.6,-2.6],[59.75,0.6],[60,-0.2]];

// ---- Axis tick values ----
const timeTicks10 = [0, 10, 20, 30, 40, 50, 60];
const timeTicks5 = [0, 5, 10, 15, 20, 25, 30, 35, 40, 45, 50, 55, 60];
const timeLabels = [0, 10, 20, 30, 40, 50, 60];
const imfNames = ["IMF1","IMF2","IMF3","IMF4","IMF5","IMF6","IMF7","IMF8","IMF9","IMF10","IMF11","IMF12"];
const yTickSets = [[-0.2,0,0.2],[-2,0,2],[-5,0,5],[-0.5,0,0.5],[-0.5,0,0.5],[-2,0,2],[-0.5,0,0.5],[-1,0,1],[-0.1,0,0.1],[-0.1,0,0.1],[-0.1,0,0.1],[-20,-10,0,10]];
const yDomains = [[-0.2,0.2],[-2.25,2.6],[-5,5],[-0.5,0.5],[-0.5,0.5],[-2,2],[-0.5,0.5],[-1,1],[-0.1,0.1],[-0.1,0.1],[-0.1,0.1],[-20,10]];
const series = [imf1, imf2, imf3, imf4, imf5, imf6, imf7, imf8, imf9, imf10, imf11, imf12];
const bursty = [false, false, false, false, false, true, true, true, false, false, false, false];

// ---- Layout of the twelve axes boxes (page pixels) ----
const layout = [
  {left: 200, width: 1185, top: 11, height: 123, labelX: 111},
  {left: 200, width: 1185, top: 172, height: 126, labelX: 111, xTicks: timeTicks5, curve: "catmull-rom"},
  {left: 200, width: 1185, top: 344, height: 124, labelX: 111, curve: "catmull-rom"},
  {left: 200, width: 1185, top: 512, height: 126, labelX: 111},
  {left: 200, width: 1185, top: 684, height: 123, labelX: 111},
  {left: 200, width: 1185, top: 856, height: 125, labelX: 111, showTime: true},
  {left: 194.5, width: 1173, top: 1131, height: 125, labelX: 84},
  {left: 194.5, width: 1173, top: 1299, height: 124, labelX: 84},
  {left: 194.5, width: 1173, top: 1469, height: 123, labelX: 84},
  {left: 194.5, width: 1173, top: 1635, height: 121, labelX: 84},
  {left: 194.5, width: 1173, top: 1802, height: 124, labelX: 84},
  {left: 198.5, width: 1168, top: 1970, height: 126, labelX: 84, showTime: true}
];

const INK = "#404040";
const LINE = "#2c4ba0";
const FONT = "'Liberation Serif', 'Times New Roman', serif";
const fig = document.getElementById("fig");

function addText(text, x, y, cls) {
  const d = document.createElement("div");
  d.className = cls;
  d.textContent = text;
  d.style.left = x + "px";
  d.style.top = y + "px";
  fig.appendChild(d);
}

series.forEach((data, i) => {
  const L = layout[i];
  const mL = 120, mR = 30, mT = 24, mB = L.showTime ? 60 : 16;
  const tick = 13;
  const xTicks = L.xTicks || timeTicks10;
  const yTicks = yTickSets[i];
  const signal = bursty[i]
    ? [
        // zero baseline of the mode, then each burst excursion as a vertical stroke
        Plot.ruleY([0], {stroke: LINE, strokeWidth: 1.4}),
        Plot.ruleX(data, {x: d => d[0], y1: d => d[1], y2: d => d[2], stroke: LINE, strokeWidth: 1.5, clip: true})
      ]
    : [Plot.line(data.map(([t, v]) => ({t, v})), {x: "t", y: "v", stroke: LINE, strokeWidth: 1.4,
                                                  curve: L.curve || "linear", clip: true})];
  const marks = [
    ...signal,
    Plot.ruleX(xTicks, {stroke: INK, strokeWidth: 3, insetBottom: L.height - tick}),
    Plot.ruleX(xTicks, {stroke: INK, strokeWidth: 3, insetTop: L.height - tick}),
    Plot.ruleY(yTicks, {stroke: INK, strokeWidth: 3, insetRight: L.width - tick}),
    Plot.ruleY(yTicks, {stroke: INK, strokeWidth: 3, insetLeft: L.width - tick}),
    Plot.frame({stroke: INK, strokeWidth: 3}),
    Plot.axisY({ticks: yTicks, tickSize: 0, tickPadding: 13, tickFormat: d => String(d),
                label: null, fontSize: 31, fontWeight: "bold", fontFamily: FONT, fill: INK})
  ];
  if (L.showTime) {
    marks.push(Plot.axisX({ticks: timeLabels, tickSize: 0, tickPadding: 21, tickFormat: d => String(d),
                           label: null, fontSize: 31, fontWeight: "bold", fontFamily: FONT, fill: INK}));
  }
  const svg = Plot.plot({
    width: L.width + mL + mR,
    height: L.height + mT + mB,
    marginLeft: mL, marginRight: mR, marginTop: mT, marginBottom: mB,
    x: {domain: [0, 60], axis: L.showTime ? undefined : null},
    y: {domain: yDomains[i]},
    style: {overflow: "visible", background: "transparent", color: INK, fontFamily: FONT},
    marks
  });
  svg.classList.add("panel");
  svg.style.left = (L.left - mL) + "px";
  svg.style.top = (L.top - mT) + "px";
  svg.style.maxWidth = "none";
  fig.appendChild(svg);
  addText(imfNames[i], L.labelX, L.top + L.height / 2, "lbl rot");
});

// Shared titles and captions
addText("Amplitude (dB)", 40, 558, "lbl rot");
addText("Amplitude (dB)", 17, 1685, "lbl rot");
addText("Time (s)", 792, 1045, "lbl");
addText("Time (s)", 781, 2172, "lbl");
addText("(a)", 784, 1087, "cap");
addText("(b)", 769, 2216, "cap");
</script>
</body>
</html>
